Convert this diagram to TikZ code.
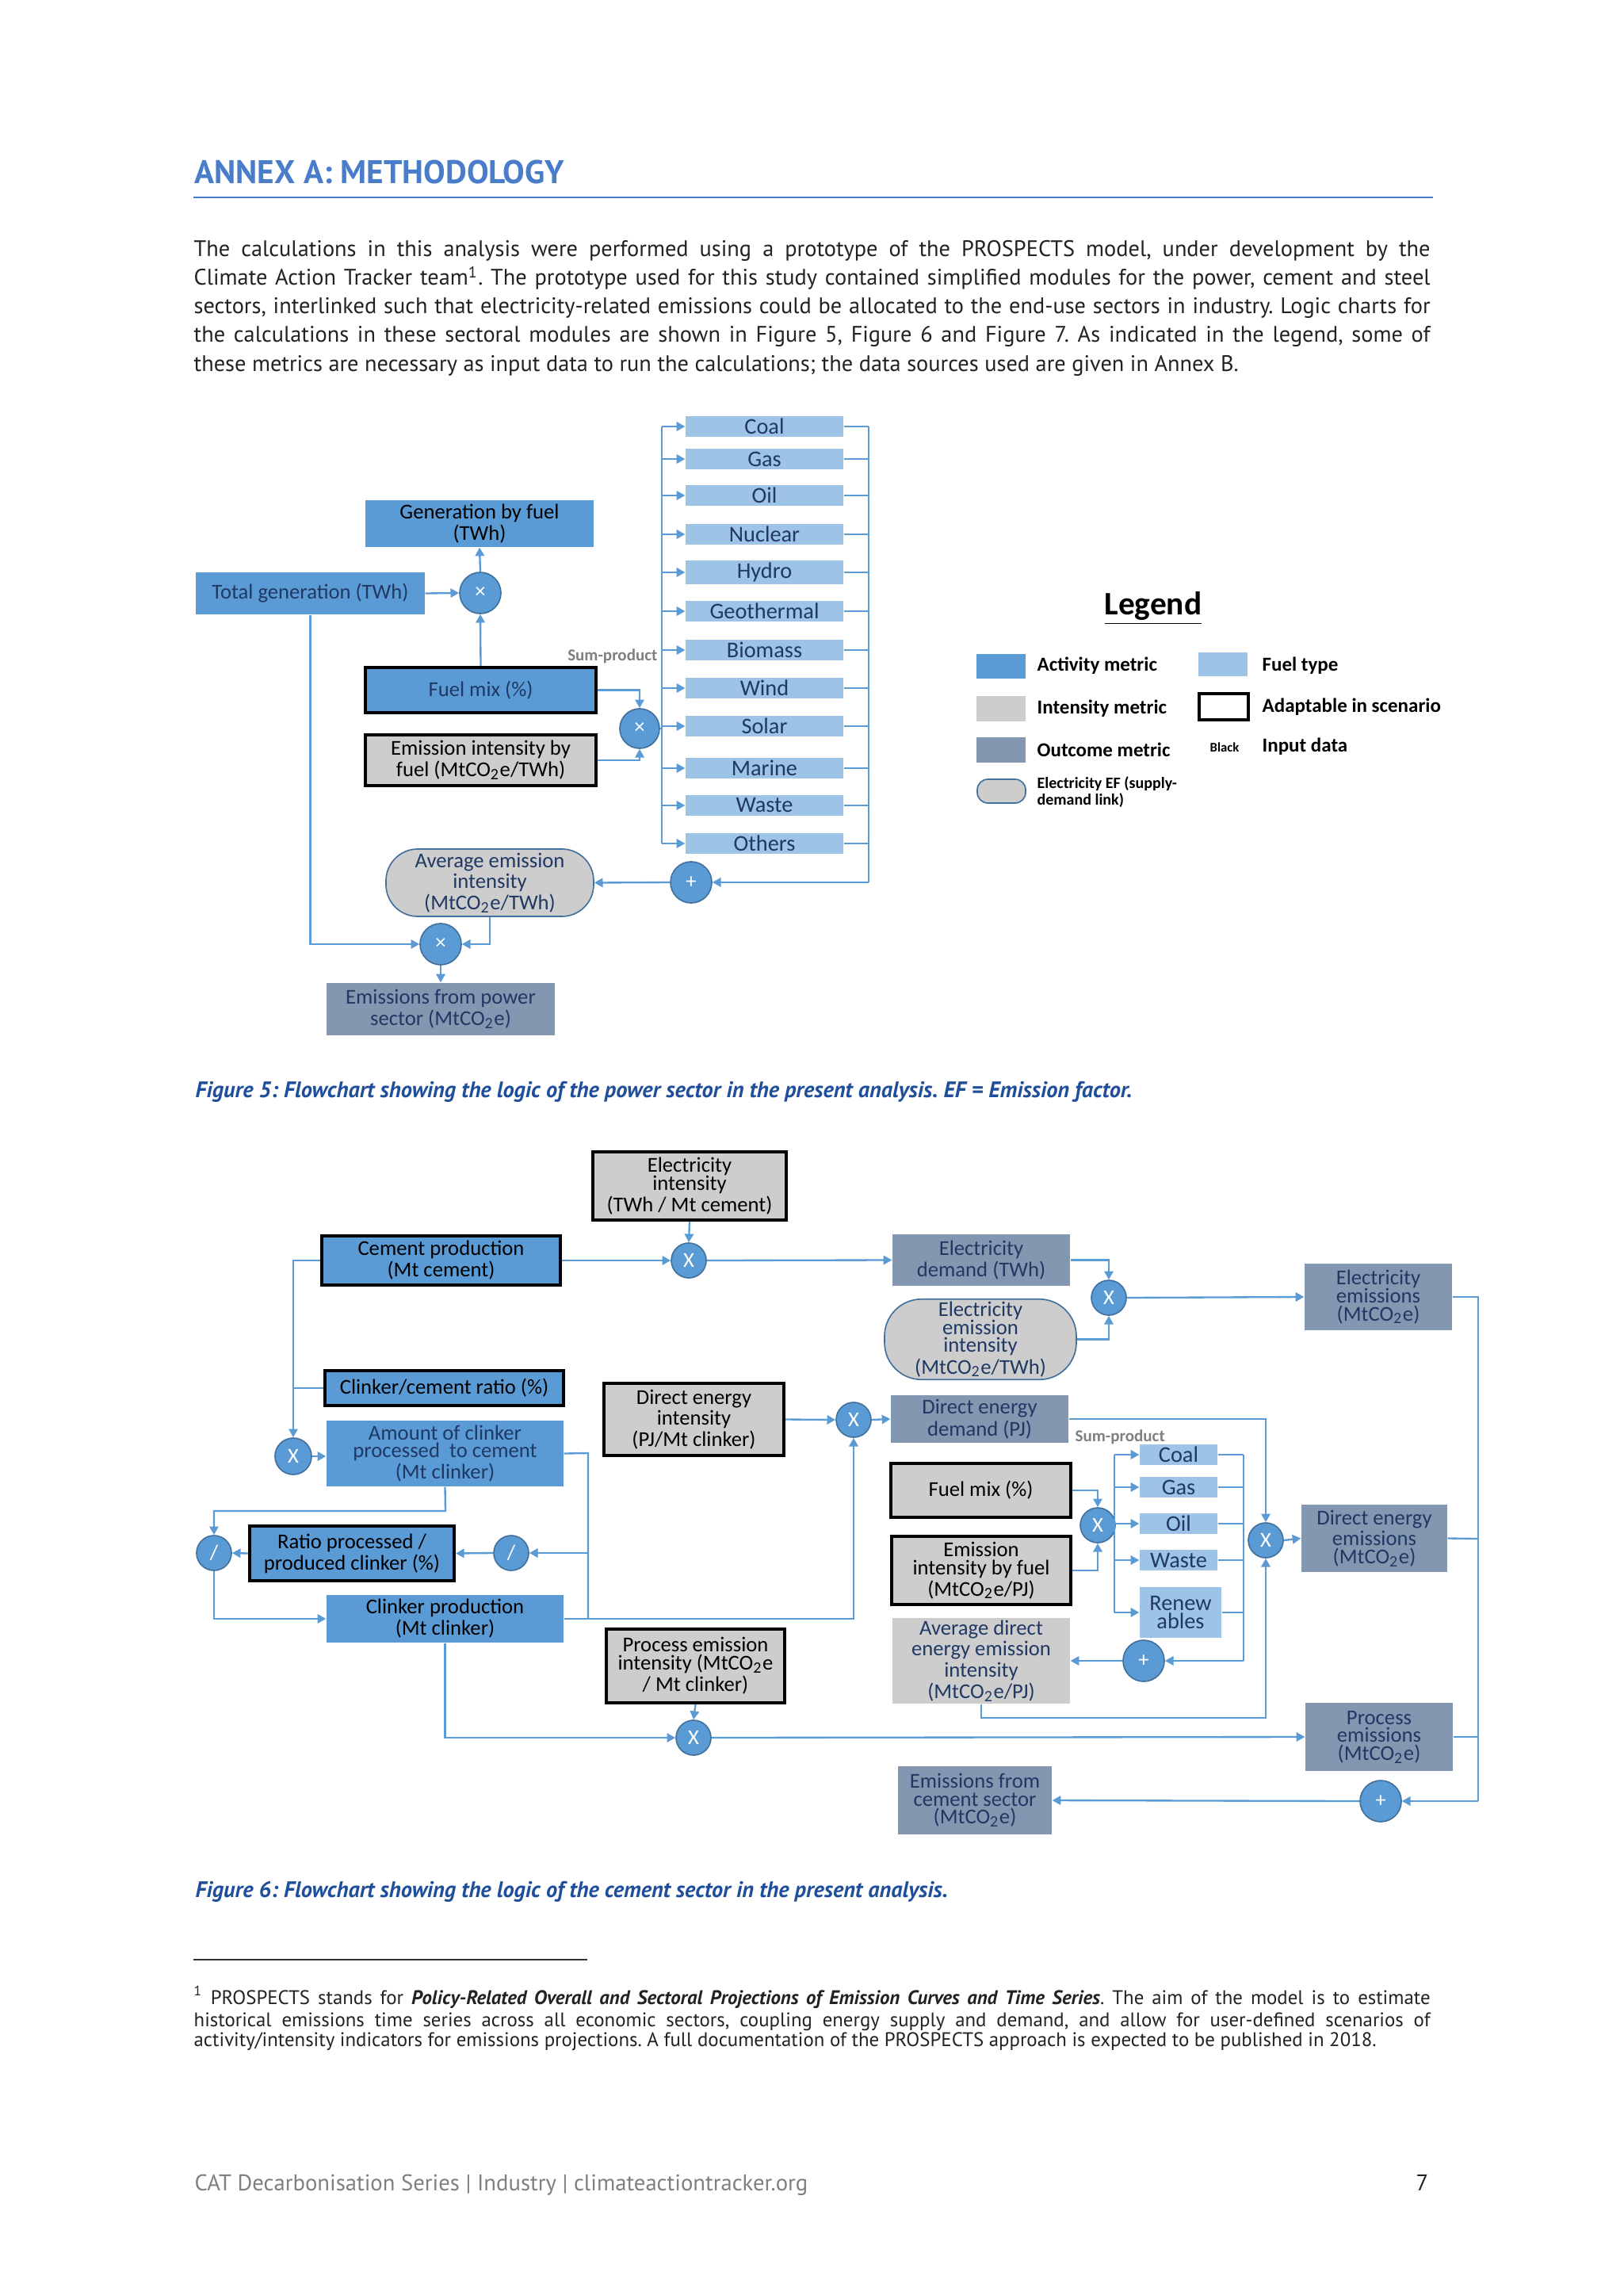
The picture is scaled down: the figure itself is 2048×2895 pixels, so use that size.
\documentclass[tikz,border=0pt]{standalone}
\usepackage{fontspec}
\setmainfont{PT Sans}
\newfontfamily\carl{Carlito}
\usetikzlibrary{arrows.meta}
\definecolor{actblue}{HTML}{5B9BD5}
\definecolor{fuelblue}{HTML}{9DC3E6}
\definecolor{intgray}{HTML}{CDCDCD}
\definecolor{outblue}{HTML}{8497B0}
\definecolor{lineblue}{HTML}{5B9BD5}
\definecolor{circedge}{HTML}{41719C}
\definecolor{navy}{HTML}{1F3864}
\definecolor{titleblue}{HTML}{4A7DC9}
\definecolor{capblue}{HTML}{1F4E9A}
\definecolor{bodytext}{HTML}{222222}
\definecolor{footgray}{HTML}{7F7F7F}
\definecolor{sumgray}{HTML}{7F7F7F}
\newcommand\COtwo{CO\textsubscript{2}}
\newcommand\bx[7]{\node[#6, minimum width={((#4)-(#2))*0.3pt}, minimum height={((#5)-(#3))*0.3pt}] (#1) at ({((#2)+(#4))/2},{((#3)+(#5))/2}) {#7};}
\newcommand\cir[5]{\node[circ, minimum size={2*(#4)*0.3pt}] (#1) at (#2,#3) {#5};}
\newcommand\jline[1]{\makebox[468pt][s]{#1}}
\frenchspacing
\tikzset{
  bt/.style={inner sep=1pt, align=center, font=\carl\fontsize{8}{6.8}\selectfont},
  act/.style={bt, fill=actblue, text=navy},
  actk/.style={act, text=black},
  thk/.style={draw=black, line width=1.2pt},
  gry/.style={bt, fill=intgray, text=black},
  gryn/.style={bt, fill=intgray, text=navy},
  outc/.style={bt, fill=outblue, text=navy},
  fuel/.style={bt, fill=fuelblue, text=navy, font=\carl\fontsize{8.5}{7}\selectfont},
  pill/.style={bt, fill=intgray, draw=circedge, line width=0.5pt, text=navy},
  circ/.style={circle, fill=actblue, draw=circedge, line width=0.5pt, inner sep=0pt, text=white, font=\carl\fontsize{8}{8}\selectfont},
  arr/.style={draw=lineblue, line width=0.7pt, -{Triangle[length=3.2pt,width=3.4pt]}},
  ln/.style={draw=lineblue, line width=0.7pt},
  body/.style={anchor=base west, inner sep=0pt, font=\fontsize{8.5}{10}\selectfont, text=bodytext},
  foot/.style={anchor=base west, inner sep=0pt, font=\fontsize{7.45}{8.5}\selectfont, text=bodytext},
  lgt/.style={anchor=west, inner sep=0pt, font=\carl\bfseries\fontsize{7.5}{8}\selectfont, text=black},
  sump/.style={inner sep=0pt, font=\carl\bfseries\fontsize{6.3}{7}\selectfont, text=sumgray},
  capt/.style={anchor=base west, inner sep=0pt, font=\bfseries\itshape\fontsize{8.5}{10}\selectfont, text=capblue},
}
\begin{document}
\begin{tikzpicture}[x=0.3pt,y=-0.3pt]
\useasboundingbox (0,0) rectangle (2048,2895);
\fill[white] (0,0) rectangle (2048,2895);

% ---------- header ----------
\node[anchor=base west, inner sep=0pt, font=\bfseries\fontsize{12.4}{14}\selectfont, text=titleblue] (title) at (245,232) {ANNEX A: METHODOLOGY};
\draw[titleblue, line width=0.7pt] (244,249) -- (1808,249);

\node[body] (b1) at (244,324) {\jline{The calculations in this analysis were performed using a prototype of the PROSPECTS model, under development by the}};
\node[body] (b2) at (244,360) {\jline{Climate Action Tracker team\textsuperscript{1}. The prototype used for this study contained simplified modules for the power, cement and steel}};
\node[body] (b3) at (244,396) {\jline{sectors, interlinked such that electricity-related emissions could be allocated to the end-use sectors in industry. Logic charts for}};
\node[body] (b4) at (244,432) {\jline{the calculations in these sectoral modules are shown in Figure 5, Figure 6 and Figure 7. As indicated in the legend, some of}};
\node[body] (b5) at (244,469) {these metrics are necessary as input data to run the calculations; the data sources used are given in Annex B.};

% ---------- Figure 5 : power sector ----------
\bx{gen}{461}{631}{749}{690}{actk}{Generation by fuel\\(TWh)}
\bx{tot}{247}{722}{536}{775}{act}{Total generation (TWh)}
\cir{c1}{606}{748}{26}{×}
\bx{fmix}{461}{842}{752}{899}{act,thk}{Fuel mix (\%)}
\bx{eif}{461}{927}{752}{991}{gry,thk}{Emission intensity by\\fuel (Mt\COtwo e/TWh)}
\cir{c2}{807}{919}{25}{×}
\node[sump, anchor=east] (sp1) at (830,828) {Sum-product};
\foreach \n/\t/\y in {coal/Coal/538, gas/Gas/579, oil/Oil/625, nuc/Nuclear/674, hyd/Hydro/722, geo/Geothermal/771, bio/Biomass/820, wind/Wind/868, sol/Solar/916, mar/Marine/969, was/Waste/1016, oth/Others/1064}{
  \bx{f\n}{865}{\y-12}{1064}{\y+12}{fuel}{\t}
}
\cir{c3}{872}{1113}{26}{+}
\bx{avg}{487}{1071}{749}{1156}{pill, rounded corners=12pt}{Average emission\\intensity\\(Mt\COtwo e/TWh)}
\cir{c4}{556}{1191}{26}{×}
\bx{epow}{412}{1240}{700}{1306}{outc}{Emissions from power\\sector (Mt\COtwo e)}

\draw[arr] (tot.east) -- (c1.west);
\draw[arr] (c1.north) -- (gen.south);
\draw[arr] (fmix.north) -- (c1.south);
\draw[arr] (fmix.east) -| (c2.north);
\draw[arr] (eif.east) -| (c2.south);
\coordinate (lv1) at (835,538);
\coordinate (lv2) at (835,1064);
\draw[ln] (lv1) -- (lv2);
\draw[ln] (c2.east) -- (835,919);
\coordinate (rv1) at (1096,538);
\coordinate (rv2) at (1096,1113);
\draw[ln] (rv1) -- (rv2);
\foreach \n/\y in {coal/538, gas/579, oil/625, nuc/674, hyd/722, geo/771, bio/820, wind/868, sol/916, mar/969, was/1016, oth/1064}{
  \draw[arr] (835,\y) -- (f\n.west);
  \draw[ln] (f\n.east) -- (1096,\y);
}
\draw[arr] (rv2) -- (c3.east);
\draw[arr] (c3.west) -- (avg.east);
\draw[arr] (tot.south) |- (c4.west);
\draw[arr] (avg.south) |- (c4.east);
\draw[arr] (c4.south) -- (epow.north);

% legend
\node[inner sep=0pt, anchor=base, font=\carl\bfseries\fontsize{12.4}{14}\selectfont] (lgtitle) at (1455,775) {\underline{Legend}};
\bx{lg1}{1232}{825}{1294}{856}{fill=actblue}{}
\node[lgt] (lt1) at (1308,840) {Activity metric};
\bx{lg2}{1232}{878}{1294}{910}{fill=intgray}{}
\node[lgt] (lt2) at (1308,894) {Intensity metric};
\bx{lg3}{1232}{930}{1294}{962}{fill=outblue}{}
\node[lgt] (lt3) at (1308,946) {Outcome metric};
\bx{lg4}{1233}{983}{1294}{1013}{pill, rounded corners=4pt}{}
\node[lgt, align=left, font=\carl\bfseries\fontsize{6}{4.6}\selectfont] (lt4) at (1308,999) {Electricity EF (supply-\\demand link)};
\bx{lg5}{1512}{823}{1574}{853}{fill=fuelblue}{}
\node[lgt] (lt5) at (1592,840) {Fuel type};
\bx{lg6}{1513}{875}{1575}{908}{fill=white, thk}{}
\node[lgt] (lt6) at (1592,892) {Adaptable in scenario};
\node[inner sep=0pt, font=\carl\bfseries\fontsize{5}{6}\selectfont] (lblack) at (1545,943) {Black};
\node[lgt] (lt7) at (1592,942) {Input data};

\node[capt] (cap5) at (246,1384) {Figure 5: Flowchart showing the logic of the power sector in the present analysis. EF = Emission factor.};

% ---------- Figure 6 : cement sector ----------
\bx{eint}{748}{1453}{992}{1539}{gry,thk}{Electricity\\intensity\\(TWh / Mt cement)}
\bx{cemp}{406}{1559}{707}{1621}{actk,thk}{Cement production\\(Mt cement)}
\cir{d1}{869}{1590}{22}{X}
\bx{edem}{1126}{1557}{1350}{1622}{outc}{Electricity\\demand (TWh)}
\cir{d2}{1399}{1637}{22}{X}
\bx{eei}{1116}{1640}{1358}{1739}{pill, rounded corners=14pt}{Electricity\\emission\\intensity\\(Mt\COtwo e/TWh)}
\bx{eem}{1646}{1594}{1832}{1678}{outc}{Electricity\\emissions\\(Mt\COtwo e)}
\bx{ccr}{410}{1729}{711}{1773}{actk,thk}{Clinker/cement ratio (\%)}
\cir{d3}{370}{1837}{23}{X}
\bx{amt}{412}{1792}{711}{1875}{act}{Amount of clinker\\processed \ to cement\\(Mt clinker)}
\bx{dei}{762}{1745}{989}{1836}{gry,thk}{Direct energy\\intensity\\(PJ/Mt clinker)}
\cir{d4}{1077}{1791}{22}{X}
\bx{ded}{1124}{1760}{1348}{1820}{outc}{Direct energy\\demand (PJ)}
\node[sump, anchor=west] (sp2) at (1356,1813) {Sum-product};
\bx{fm2}{1124}{1846}{1351}{1914}{gry,thk}{Fuel mix (\%)}
\bx{ei2}{1125}{1938}{1351}{2024}{gry,thk}{Emission\\intensity by fuel\\(Mt\COtwo e/PJ)}
\cir{d5}{1385}{1924}{22}{X}
\foreach \n/\t/\y in {coal/Coal/1835, gas/Gas/1876, oil/Oil/1922, was/Waste/1968}{
  \bx{g\n}{1438}{\y-12}{1536}{\y+12}{fuel}{\t}
}
\bx{gren}{1438}{2002}{1541}{2066}{fuel}{Renew\\ables}
\cir{d6}{1443}{2095}{26}{+}
\bx{aded}{1126}{2042}{1350}{2148}{gryn}{Average direct\\energy emission\\intensity\\(Mt\COtwo e/PJ)}
\cir{d7}{1597}{1943}{22}{X}
\bx{dee}{1642}{1898}{1826}{1983}{outc}{Direct energy\\emissions\\(Mt\COtwo e)}
\cir{div1}{645}{1959}{22}{/}
\bx{rpc}{315}{1925}{573}{1994}{actk,thk}{Ratio processed /\\produced clinker (\%)}
\cir{div2}{270}{1959}{22}{/}
\bx{clp}{412}{2012}{711}{2072}{actk}{Clinker production\\(Mt clinker)}
\bx{pei}{765}{2055}{990}{2148}{gry,thk}{Process emission\\intensity (Mt\COtwo e\\/ Mt clinker)}
\cir{d8}{875}{2192}{22}{X}
\bx{pem}{1647}{2148}{1833}{2234}{outc}{Process\\emissions\\(Mt\COtwo e)}
\cir{d9}{1742}{2272}{26}{+}
\bx{ecs}{1133}{2228}{1327}{2314}{outc}{Emissions from\\cement sector\\(Mt\COtwo e)}

\draw[arr] (eint.south) -- (d1.north);
\draw[arr] (cemp.east) -- (d1.west);
\draw[arr] (d1.east) -- (edem.west);
\draw[arr] (edem.east) -| (d2.north);
\draw[arr] (eei.east) -| (d2.south);
\draw[arr] (d2.east) -- (eem.west);
\coordinate (rr1) at (1865,1636);
\coordinate (rr2) at (1865,2272);
\draw[ln] (eem.east) -- (rr1) -- (rr2);
\draw[arr] (rr2) -- (d9.east);
\draw[ln] (dee.east) -- (1865,1941);
\draw[ln] (pem.east) -- (1865,2191);
\draw[arr] (d9.west) -- (ecs.east);
\draw[arr] (cemp.west) -| (d3.north);
\draw[ln] (ccr.west) -- (370,1751);
\draw[arr] (d3.east) -- (amt.west |- d3.east);
\draw[arr] (dei.east) -- (d4.west);
\draw[arr] (d4.east) -- (ded.west);
\draw[arr] (ded.east) -| (d7.north);
\draw[arr] (fm2.east) -| (d5.north);
\draw[arr] (ei2.east) -| (d5.south);
\coordinate (lw1) at (1406,1835);
\coordinate (lw2) at (1406,2034);
\draw[ln] (lw1) -- (lw2);
\coordinate (rw1) at (1569,1835);
\coordinate (rw2) at (1569,2095);
\draw[ln] (rw1) -- (rw2);
\foreach \n/\y in {coal/1835, gas/1876, oil/1922, was/1968, ren/2034}{
  \draw[arr] (1406,\y) -- (g\n.west);
  \draw[ln] (g\n.east) -- (1569,\y);
}
\draw[arr] (rw2) -- (d6.east);
\draw[arr] (d6.west) -- (aded.east);
\coordinate (k1) at (1597,2167);
\draw[arr] (aded.south) |- (k1) -- (d7.south);
\draw[arr] (d7.east) -- (dee.west);
\coordinate (j1) at (742,1833);
\coordinate (j2) at (742,2042);
\draw[ln] (amt.east) -- (j1) -- (j2);
\draw[arr] (742,1959) -- (div1.east);
\draw[arr] (div1.west) -- (rpc.east);
\draw[arr] (rpc.west) -- (div2.east);
\coordinate (j3) at (562,1906);
\draw[arr] (amt.south) -- (j3) -| (div2.north);
\draw[arr] (div2.south) |- (clp.west);
\coordinate (j4) at (1077,2042);
\draw[arr] (clp.east) -- (j4) -- (d4.south);
\draw[arr] (clp.south) |- (d8.west);
\draw[arr] (pei.south) -- (d8.north);
\draw[arr] (d8.east) -- (pem.west);

\node[capt] (cap6) at (246,2393) {Figure 6: Flowchart showing the logic of the cement sector in the present analysis.};

% ---------- footnote & footer ----------
\draw[black!80, line width=0.6pt] (244,2472) -- (741,2472);
\node[foot] (fn1) at (244,2528) {\jline{\textsuperscript{1} PROSPECTS stands for \textbf{\textit{Policy-Related Overall and Sectoral Projections of Emission Curves and Time Series}}. The aim of the model is to estimate}};
\node[foot] (fn2) at (244,2556) {\jline{historical emissions time series across all economic sectors, coupling energy supply and demand, and allow for user-defined scenarios of}};
\node[foot] (fn3) at (244,2581) {activity/intensity indicators for emissions projections. A full documentation of the PROSPECTS approach is expected to be published in 2018.};
\node[anchor=base west, inner sep=0pt, font=\fontsize{8.6}{10}\selectfont, text=footgray] (foot) at (245,2763) {CAT Decarbonisation Series | Industry | climateactiontracker.org};
\node[anchor=base east, inner sep=0pt, font=\fontsize{8.6}{10}\selectfont, text=bodytext] (pg) at (1803,2763) {7};
\end{tikzpicture}
\end{document}
